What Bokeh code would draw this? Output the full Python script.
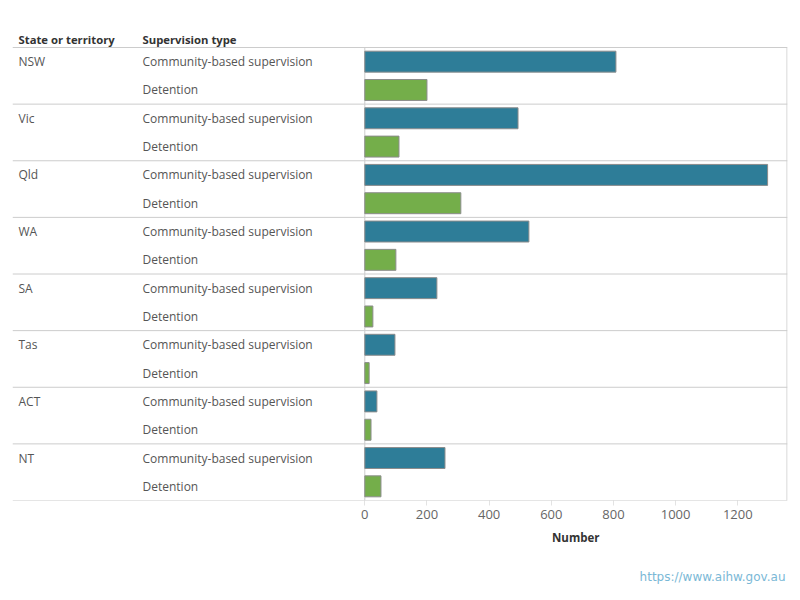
from bokeh.plotting import figure
from bokeh.models import Range1d, FixedTicker, ColumnDataSource, Span, Title
from bokeh.embed import file_html
from bokeh.resources import INLINE
from bokeh.core.properties import value

# ---- data ----
states = ["NSW", "Vic", "Qld", "WA", "SA", "Tas", "ACT", "NT"]
types = ["Community-based supervision", "Detention"]
community = [808, 493, 1296, 528, 232, 97, 39, 258]
detention = [200, 110, 309, 100, 26, 14, 20, 52]
ticks = [0, 200, 400, 600, 800, 1000, 1200]
headers = ["State or territory", "Supervision type"]
type_colors = ["#2e7d98", "#74ae4a"]

# ---- layout constants (pixels) ----
W, H = 800, 600
FL, FR, FTOP, FT, FB = 12, 787, 26, 47, 500
X0PX = 364.3
SCALE = 0.3108
nrows = len(states) * len(types)
ROWPX = (FB - FT) / nrows
x_start = -(X0PX - FL) / SCALE
x_end = (FR - X0PX) / SCALE


def xd(px):
    return (px - X0PX) / SCALE


def yd(py):
    return (py - FT) / ROWPX


FONT = "Open Sans"

p = figure(width=W, height=H, output_backend="svg", toolbar_location=None,
           x_range=Range1d(x_start, x_end), y_range=Range1d(nrows, yd(FTOP)),
           y_axis_location=None, min_border_left=FL, min_border_right=W - FR,
           min_border_top=FTOP, min_border_bottom=H - FB)
p.outline_line_color = None
p.xgrid.visible = False
p.ygrid.visible = False
p.background_fill_color = "white"
p.border_fill_color = "white"

# bars
ys, vals, cols, state_lbl, type_lbl = [], [], [], [], []
for i, s in enumerate(states):
    for j, t in enumerate(types):
        row = i * len(types) + j
        ys.append(row + 0.5)
        vals.append(community[i] if j == 0 else detention[i])
        cols.append(type_colors[j])
        state_lbl.append(s if j == 0 else "")
        type_lbl.append(t)

src = ColumnDataSource(dict(y=ys, v=vals, c=cols, s=state_lbl, t=type_lbl))

# separators
for k in range(0, nrows + 1, len(types)):
    p.add_layout(Span(location=k, dimension="width", line_color="#cccccc", line_width=1))
p.segment(x0=[0, xd(786.5)], y0=[0, 0], x1=[0, xd(786.5)], y1=[nrows, nrows],
          line_color="#cccccc", line_width=1)

p.hbar(y="y", left=0, right="v", height=0.74, fill_color="c",
       line_color="#8c8c8c", line_width=1, source=src)

# row labels
p.text(x=xd(18), y="y", text="s", source=src, text_font=value(FONT),
       text_font_size="12px", text_color="#555555", text_baseline="middle", text_align="left")
p.text(x=xd(142), y="y", text="t", source=src, text_font=value(FONT),
       text_font_size="12px", text_color="#555555", text_baseline="middle", text_align="left")

# headers
p.text(x=[xd(18), xd(142)], y=[yd(39), yd(39)], text=headers, text_font=value(FONT),
       text_font_style="bold", text_font_size="11.3px", text_color="#333333",
       text_baseline="middle", text_align="left")

# axis
ax = p.xaxis[0]
ax.ticker = FixedTicker(ticks=ticks)
ax.axis_line_color = None
ax.major_tick_line_color = "#e3e3e3"
ax.major_tick_out = 5
ax.major_tick_in = 0
ax.minor_tick_line_color = None
ax.major_label_text_font = FONT
ax.major_label_text_font_size = "13px"
ax.major_label_text_color = "#666666"
ax.major_label_standoff = 4

p.add_layout(Title(text="Number", align="right", offset=FR - 599,
                   text_font=FONT, text_font_style="bold", text_font_size="11.5px",
                   text_color="#333333", standoff=13), "below")
p.add_layout(Title(text="https://www.aihw.gov.au", align="right", offset=2,
                   text_font="DejaVu Sans", text_font_style="normal", text_font_size="12px",
                   text_color="#7ab8d6", standoff=32), "below")

open("out.html", "w").write(file_html(p, INLINE))
